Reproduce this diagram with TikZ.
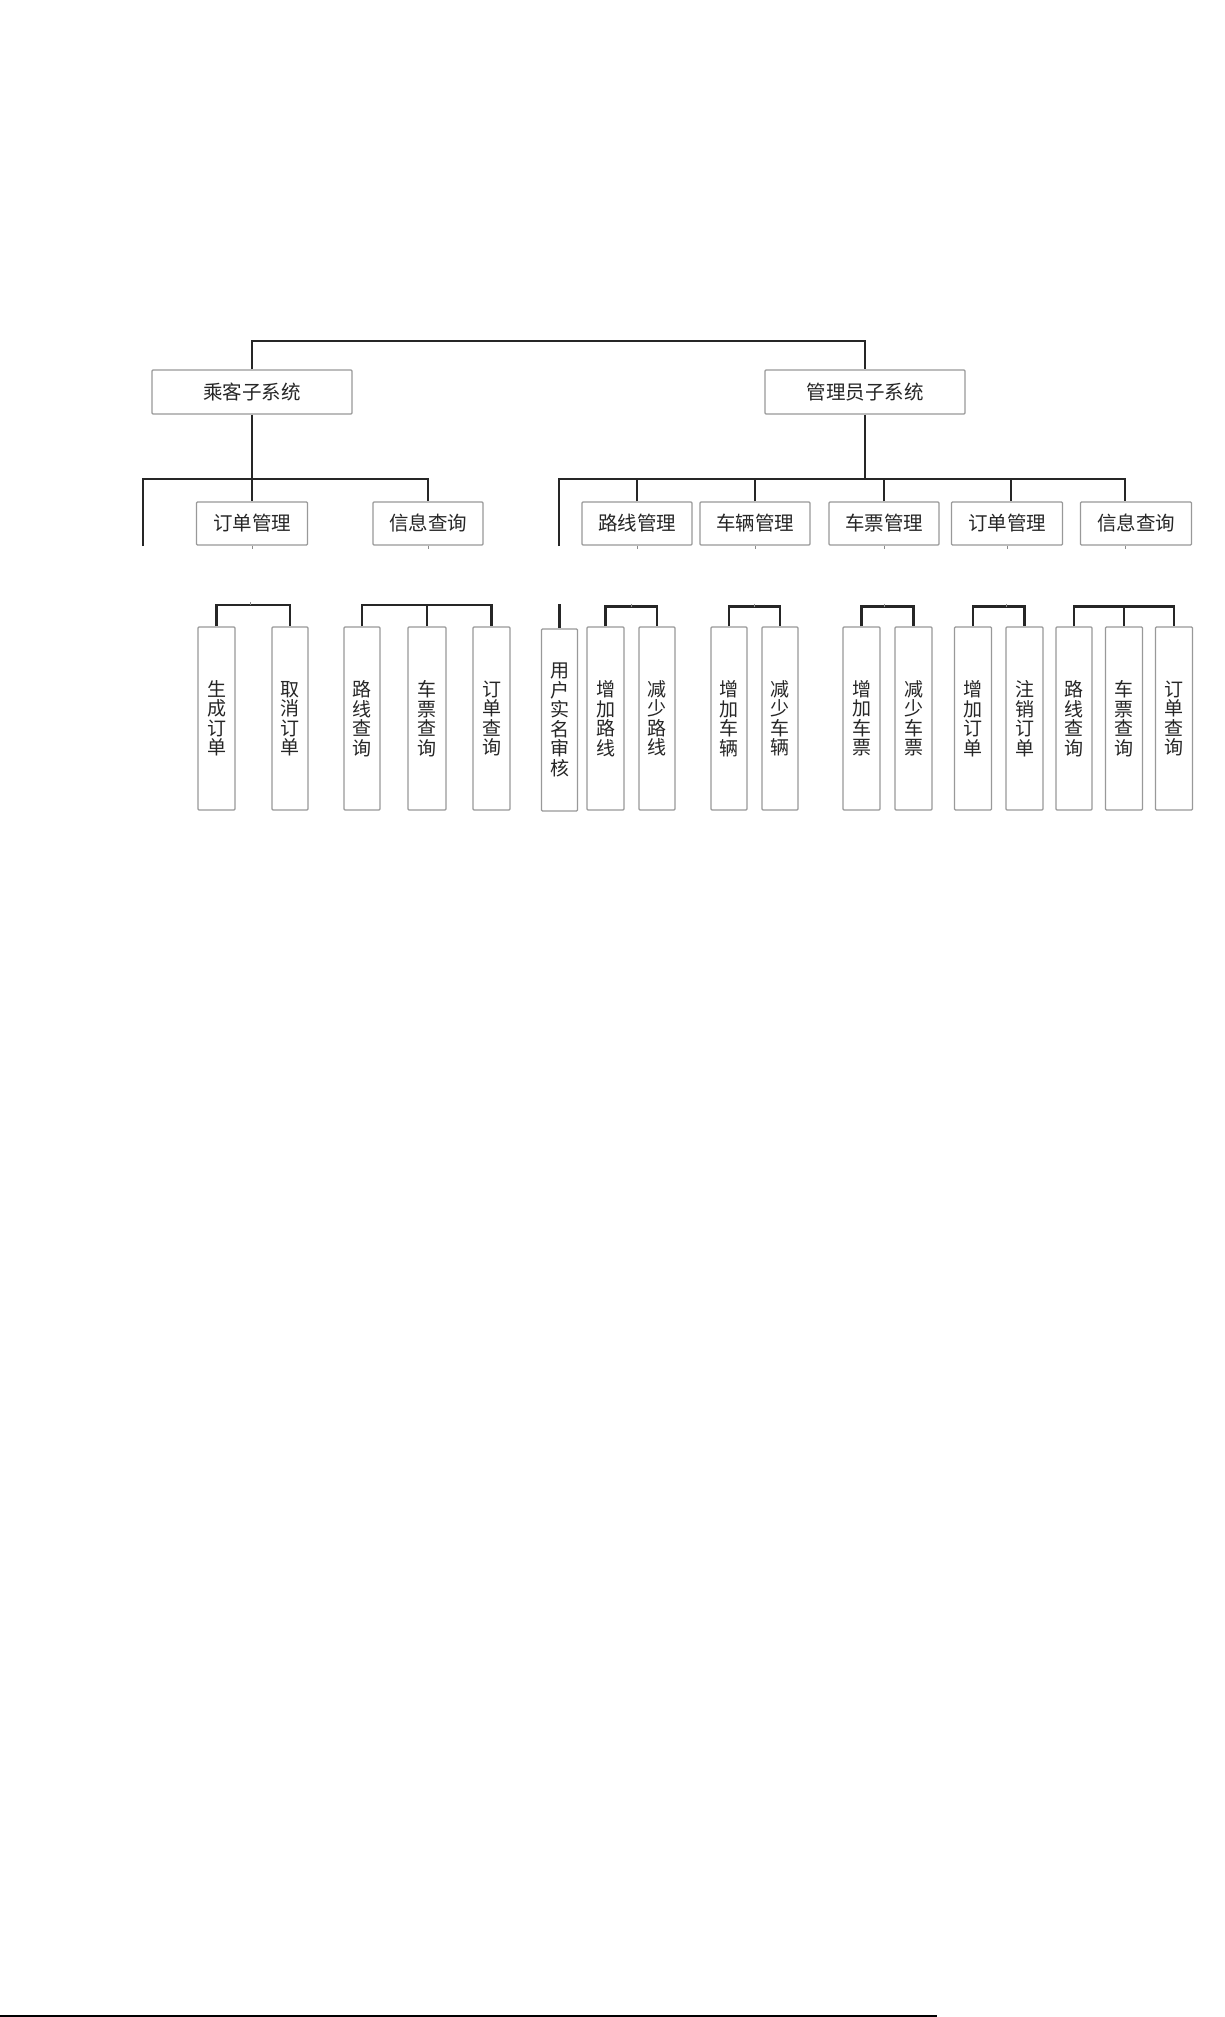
\documentclass[tikz,border=0pt]{standalone}
\usepackage{fontspec}
\newfontfamily\cjk{Noto Sans CJK SC}
\begin{document}
\begin{tikzpicture}[x=1pt,y=-1pt,
  box/.style={draw=black!40, line width=1.1pt, rounded corners=1pt, inner sep=0pt,
    text=black!85, align=center},
  hbox/.style={box, minimum height=44pt, font=\cjk\fontsize{19.5}{21}\selectfont},
  vbox/.style={box, minimum height=183pt, font=\cjk\fontsize{19}{19.5}\selectfont},
  link/.style={draw=black!85, line width=2.4pt},
  toplink/.style={draw=black!85, line width=2pt},
  tick/.style={draw=black!45, line width=1pt}]
\useasboundingbox[fill=white] (0,0) rectangle (1225,2017);

% level 0
\node[hbox, minimum width=200pt] (pass) at (252,392) {乘客子系统};
\node[hbox, minimum width=200pt] (admin) at (865,392) {管理员子系统};
\coordinate (top) at (252,341);
\draw[toplink] (pass.north) |- (admin.north |- top) -- (admin.north);

% passenger level 1
\node[hbox, minimum width=111pt, minimum height=43pt] (p1) at (252,523.5) {订单管理};
\node[hbox, minimum width=110pt, minimum height=43pt] (p2) at (428,523.5) {信息查询};
\coordinate (pL) at (143,479);
\coordinate (pR) at (428,479);
\coordinate (pE) at (143,546);
\draw[link] (pass.south) -- (p1.north);
\draw[link] (pE) -- (pL) -- (pR) -- (pR |- p2.north);

% admin level 1
\node[hbox, minimum width=110pt, minimum height=43pt] (a1) at (637,523.5) {路线管理};
\node[hbox, minimum width=110pt, minimum height=43pt] (a2) at (755,523.5) {车辆管理};
\node[hbox, minimum width=110pt, minimum height=43pt] (a3) at (884,523.5) {车票管理};
\node[hbox, minimum width=111pt, minimum height=43pt] (a4) at (1007,523.5) {订单管理};
\node[hbox, minimum width=111pt, minimum height=43pt] (a5) at (1136,523.5) {信息查询};
\coordinate (aL) at (559,479);
\coordinate (aR) at (1125,479);
\coordinate (aE) at (559,546);
\coordinate (a4t) at (1011,479);
\draw[link] (admin.south) -- (admin.south |- aL);
\draw[link] (aE) -- (aL) -- (aR) -- (aR |- a5.north);
\draw[link] (a1.north) -- (a1.north |- aL);
\draw[link] (a2.north) -- (a2.north |- aL);
\draw[link] (a3.north) -- (a3.north |- aL);
\draw[link] (a4t) -- (a4t |- a4.north);

% small ticks under level-1 boxes
\foreach \n in {p1,p2,a1,a2,a3,a4} \draw[tick] (\n.south) -- ++(0,3);
\draw[tick] (aR |- a5.south) -- ++(0,3);

% passenger level 2
\node[vbox, minimum width=37pt] (g1) at (216.5,718.5) {生\\成\\订\\单};
\node[vbox, minimum width=36pt] (g2) at (290,718.5) {取\\消\\订\\单};
\node[vbox, minimum width=36pt] (i1) at (362,718.5) {路\\线\\查\\询};
\node[vbox, minimum width=38pt] (i2) at (427,718.5) {车\\票\\查\\询};
\node[vbox, minimum width=37pt] (i3) at (491.5,718.5) {订\\单\\查\\询};
\coordinate (gb) at (250,605);
\coordinate (ib) at (427,605);
\draw[link] (g1.north) -- (g1.north |- gb) -- (g2.north |- gb) -- (g2.north);
\draw[link] (i1.north) -- (i1.north |- ib) -- (i3.north |- ib) -- (i3.north);
\draw[link] (ib) -- (i2.north);
\draw[tick] (gb) -- ++(0,-3);

% admin level 2
\node[vbox, minimum width=36pt, minimum height=182pt] (u) at (559.5,720) {用\\户\\实\\名\\审\\核};
\coordinate (uE) at (559.5,604);
\draw[link] (uE) -- (u.north);

\node[vbox, minimum width=37pt] (r1) at (605.5,718.5) {增\\加\\路\\线};
\node[vbox, minimum width=36pt] (r2) at (657,718.5) {减\\少\\路\\线};
\node[vbox, minimum width=36pt] (v1) at (729,718.5) {增\\加\\车\\辆};
\node[vbox, minimum width=36pt] (v2) at (780,718.5) {减\\少\\车\\辆};
\node[vbox, minimum width=37pt] (t1) at (861.5,718.5) {增\\加\\车\\票};
\node[vbox, minimum width=37pt] (t2) at (913.5,718.5) {减\\少\\车\\票};
\node[vbox, minimum width=37pt] (o1) at (973,718.5) {增\\加\\订\\单};
\node[vbox, minimum width=37pt] (o2) at (1024.5,718.5) {注\\销\\订\\单};
\node[vbox, minimum width=36pt] (q1) at (1074,718.5) {路\\线\\查\\询};
\node[vbox, minimum width=37pt] (q2) at (1124,718.5) {车\\票\\查\\询};
\node[vbox, minimum width=37pt] (q3) at (1174,718.5) {订\\单\\查\\询};

\coordinate (rb) at (631,606.5);
\coordinate (vb) at (754,606.5);
\coordinate (tb) at (884,606.5);
\coordinate (ob) at (1006,606.5);
\coordinate (qb) at (1124,606.5);
\draw[link] (r1.north) -- (r1.north |- rb) -- (r2.north |- rb) -- (r2.north);
\draw[link] (v1.north) -- (v1.north |- vb) -- (v2.north |- vb) -- (v2.north);
\draw[link] (t1.north) -- (t1.north |- tb) -- (t2.north |- tb) -- (t2.north);
\draw[link] (o1.north) -- (o1.north |- ob) -- (o2.north |- ob) -- (o2.north);
\draw[link] (q1.north) -- (q1.north |- qb) -- (q3.north |- qb) -- (q3.north);
\draw[link] (qb) -- (q2.north);
\foreach \c in {rb,vb,tb,ob} \draw[tick] (\c) -- ++(0,-3);

% bottom rule
\coordinate (bl) at (0,2015.5);
\coordinate (br) at (937,2015.5);
\draw[draw=black, line width=2pt] (bl) -- (br);
\end{tikzpicture}
\end{document}
